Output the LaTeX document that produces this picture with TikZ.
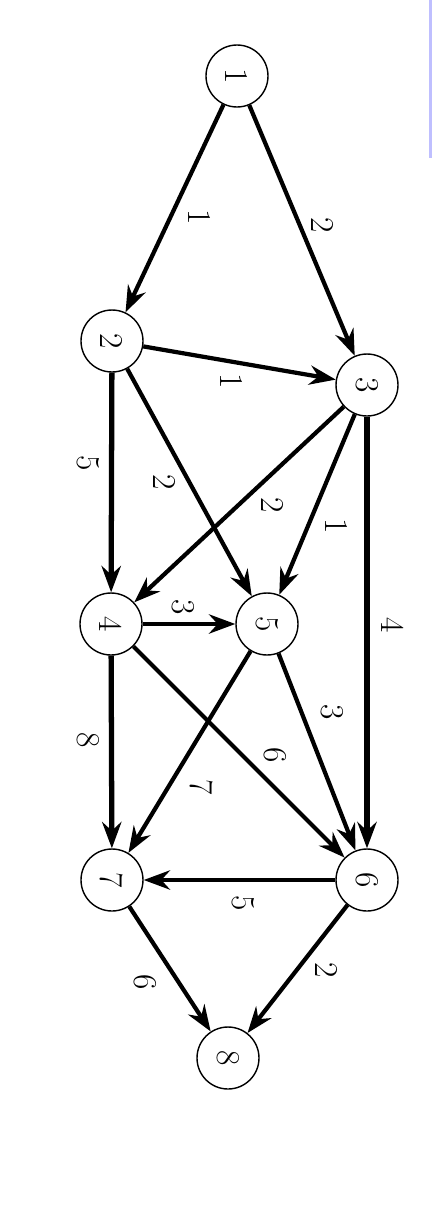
\documentclass[tikz,border=0pt]{standalone}
\usepackage{tikz}
\usetikzlibrary{arrows.meta}

\begin{document}
\begin{tikzpicture}[x=0.02cm,y=-0.02cm,
  vtx/.style={circle,draw,line width=0.8pt,minimum size=1.24cm,inner sep=0pt,font=\fontsize{19}{22}\selectfont,rotate=-90},
  wt/.style={font=\fontsize{19}{22}\selectfont,rotate=-90,inner sep=1pt},
  arr/.style={-{Stealth[length=15pt,width=11pt,inset=5pt]},line width=2.4pt},
  heavy/.style={arr,line width=3pt}]
  \useasboundingbox (0,0) rectangle (432,1214);
  \fill[blue!25] (429,0) rectangle (432,158);
  \node[vtx] (n1) at (237,76)   {1};
  \node[vtx] (n2) at (112,341)  {2};
  \node[vtx] (n3) at (367,385)  {3};
  \node[vtx] (n4) at (111,624)  {4};
  \node[vtx] (n5) at (267,624)  {5};
  \node[vtx] (n6) at (367,880)  {6};
  \node[vtx] (n7) at (112,880)  {7};
  \node[vtx] (n8) at (228,1058) {8};
  \draw[arr]   (n1) -- (n2) node[wt] at (200,217) {1};
  \draw[arr]   (n1) -- (n3) node[wt] at (323,225) {2};
  \draw[arr]   (n2) -- (n3) node[wt] at (232,381) {1};
  \draw[heavy] (n2) -- (n4) node[wt] at (88,463)  {5};
  \draw[arr]   (n2) -- (n5) node[wt] at (165,482) {2};
  \draw[arr]   (n3) -- (n4) node[wt] at (273,505) {2};
  \draw[arr]   (n3) -- (n5) node[wt] at (337,526) {1};
  \draw[heavy] (n3) -- (n6) node[wt] at (393,625) {4};
  \draw[arr]   (n4) -- (n5) node[wt] at (183,607) {3};
  \draw[heavy] (n4) -- (n7) node[wt] at (88,740)  {8};
  \draw[arr]   (n4) -- (n6) node[wt] at (275,755) {6};
  \draw[arr]   (n5) -- (n6) node[wt] at (332,712) {3};
  \draw[arr]   (n5) -- (n7) node[wt] at (202,787) {7};
  \draw[arr]   (n6) -- (n7) node[wt] at (243,903) {5};
  \draw[arr]   (n7) -- (n8) node[wt] at (145,982) {6};
  \draw[arr]   (n6) -- (n8) node[wt] at (327,970) {2};
\end{tikzpicture}
\end{document}
